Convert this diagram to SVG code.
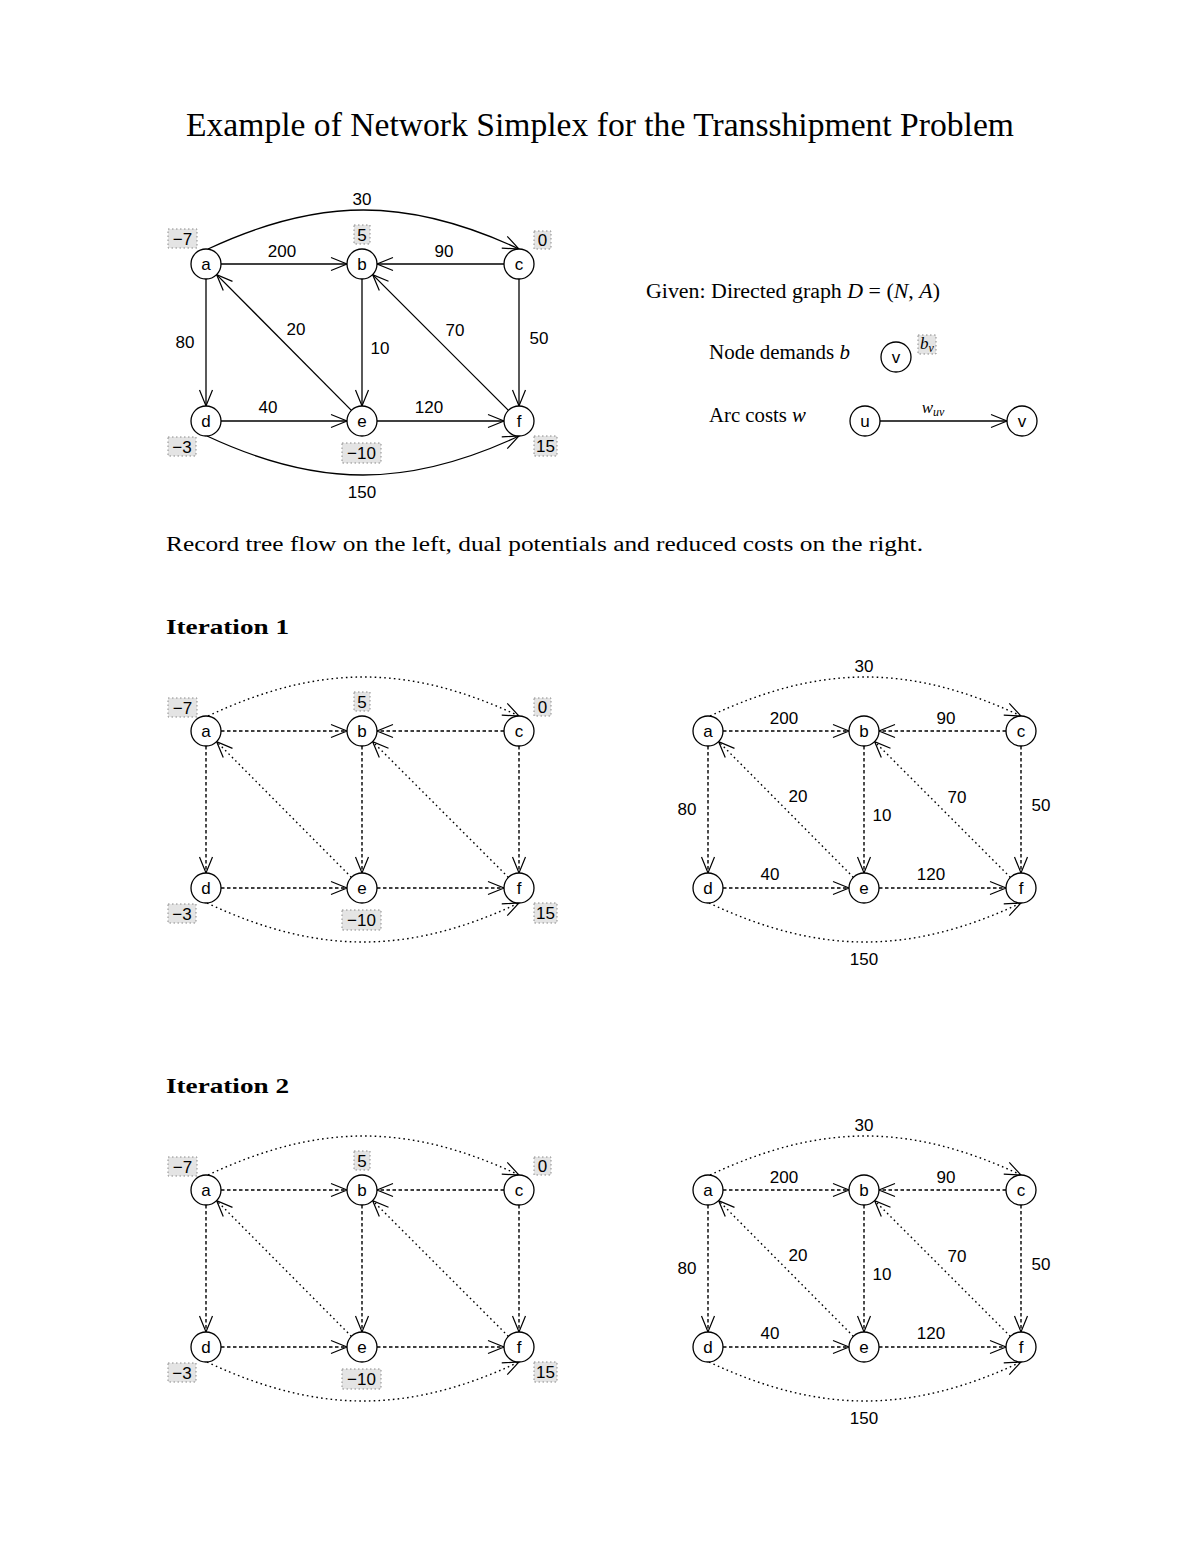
<svg xmlns="http://www.w3.org/2000/svg" width="1200" height="1553" viewBox="0 0 1200 1553">
<style>
.bg{fill:#fff}
.node circle{fill:#fff;stroke:#000;stroke-width:1.3}
.node text,.lbl,.dem text{font-family:"Liberation Sans",Arial,sans-serif;font-size:17px;text-anchor:middle;fill:#000}
.dem rect{fill:#e4e4e4;stroke:#8a8a8a;stroke-width:1;stroke-dasharray:1.5 2.5}
.edge{fill:none;stroke:#000;stroke-width:1.3;marker-end:url(#ah)}
.dash{stroke-dasharray:3.5 2.5;stroke-width:1.4}
.dot{stroke-dasharray:1.6 3.2;stroke-width:1.4}
.serif{font-family:"Liberation Serif","Times New Roman",serif;fill:#000}
</style>
<defs>
<marker id="ah" markerUnits="userSpaceOnUse" markerWidth="20" markerHeight="16" refX="16" refY="7" orient="auto" overflow="visible">
<path d="M0,0.5 L16,7 L0,13.5" fill="none" stroke="#000" stroke-width="1.2"/>
</marker>
</defs>
<rect class="bg" x="0" y="0" width="1200" height="1553"/>

<text class="serif" x="186" y="136" font-size="34" textLength="828" lengthAdjust="spacingAndGlyphs">Example of Network Simplex for the Transshipment Problem</text>

<!-- ============ Main graph ============ -->
<g id="main">
<g id="main-connectors">
<path class="edge" d="M208,249 C319,197 408,197 519,249"/>
<path class="edge" d="M221,264 H347"/>
<path class="edge" d="M504,264 H377"/>
<path class="edge" d="M206,279 V406"/>
<path class="edge" d="M362,279 V406"/>
<path class="edge" d="M519,279 V406"/>
<path class="edge" d="M221,421 H347"/>
<path class="edge" d="M377,421 H504"/>
<path class="edge" d="M351.4,410.4 L216.6,274.6"/>
<path class="edge" d="M508.4,410.4 L372.6,274.6"/>
<path class="edge" d="M207,436 C318,488 408,488 519,436"/>
</g>
<g id="main-costs">
<text class="lbl" x="362" y="205">30</text>
<text class="lbl" x="282" y="257">200</text>
<text class="lbl" x="444" y="257">90</text>
<text class="lbl" x="185" y="348">80</text>
<text class="lbl" x="296" y="335">20</text>
<text class="lbl" x="380" y="354">10</text>
<text class="lbl" x="455" y="336">70</text>
<text class="lbl" x="539" y="344">50</text>
<text class="lbl" x="268" y="413">40</text>
<text class="lbl" x="429" y="413">120</text>
<text class="lbl" x="362" y="498">150</text>
</g>
<g id="main-a" class="node"><circle cx="206" cy="264" r="15"/><text x="206" y="270">a</text></g>
<g id="main-b" class="node"><circle cx="362" cy="264" r="15"/><text x="362" y="270">b</text></g>
<g id="main-c" class="node"><circle cx="519" cy="264" r="15"/><text x="519" y="270">c</text></g>
<g id="main-d" class="node"><circle cx="206" cy="421" r="15"/><text x="206" y="427">d</text></g>
<g id="main-e" class="node"><circle cx="362" cy="421" r="15"/><text x="362" y="427">e</text></g>
<g id="main-f" class="node"><circle cx="519" cy="421" r="15"/><text x="519" y="427">f</text></g>
<g id="main-demands" class="dem">
<rect x="168" y="229" width="29" height="19"/><text x="182.5" y="245">−7</text>
<rect x="354" y="225" width="16" height="19"/><text x="362" y="241">5</text>
<rect x="534" y="231" width="17" height="18"/><text x="542.5" y="246">0</text>
<rect x="168" y="437" width="28" height="19"/><text x="182" y="453">−3</text>
<rect x="342" y="443" width="39" height="20"/><text x="361.5" y="459">−10</text>
<rect x="534" y="436" width="23" height="20"/><text x="545.5" y="452">15</text>
</g>
</g>

<!-- ============ Legend ============ -->
<g id="legend">
<text class="serif" x="646" y="298" font-size="20" textLength="294" lengthAdjust="spacingAndGlyphs">Given: Directed graph <tspan font-style="italic">D</tspan> = (<tspan font-style="italic">N</tspan>, <tspan font-style="italic">A</tspan>)</text>
<text class="serif" x="709" y="359" font-size="20" textLength="141" lengthAdjust="spacingAndGlyphs">Node demands <tspan font-style="italic">b</tspan></text>
<text class="serif" x="709" y="422" font-size="20" textLength="97" lengthAdjust="spacingAndGlyphs">Arc costs <tspan font-style="italic">w</tspan></text>
<g id="legend-v1" class="node"><circle cx="896" cy="357" r="15"/><text x="896" y="363" font-size="15">v</text></g>
<g id="legend-bv" class="dem"><rect x="918" y="335" width="18" height="19"/></g>
<text class="serif" x="920" y="349" font-size="17" font-style="italic">b<tspan font-size="12" dy="3">v</tspan></text>
<path class="edge" d="M880,421 H1007"/>
<text class="serif" x="933" y="413" font-size="17" font-style="italic" text-anchor="middle">w<tspan font-size="12" dy="3">uv</tspan></text>
<g id="legend-u" class="node"><circle cx="865" cy="421" r="15"/><text x="865" y="427" font-size="15">u</text></g>
<g id="legend-v2" class="node"><circle cx="1022" cy="421" r="15"/><text x="1022" y="427" font-size="15">v</text></g>
</g>

<text class="serif" x="166" y="551" font-size="20" textLength="757" lengthAdjust="spacingAndGlyphs">Record tree flow on the left, dual potentials and reduced costs on the right.</text>

<text class="serif" x="166" y="634" font-size="21" font-weight="bold" textLength="123" lengthAdjust="spacingAndGlyphs">Iteration 1</text>
<text class="serif" x="166" y="1093" font-size="21" font-weight="bold" textLength="123" lengthAdjust="spacingAndGlyphs">Iteration 2</text>

<!-- ============ Iteration 1 left ============ -->
<g id="it1-left" transform="translate(0,467)">
<g id="it1L-connectors">
<path class="edge dot" d="M208,249 C319,197 408,197 519,249"/>
<path class="edge dash" d="M221,264 H347"/>
<path class="edge dash" d="M504,264 H377"/>
<path class="edge dash" d="M206,279 V406"/>
<path class="edge dash" d="M362,279 V406"/>
<path class="edge dash" d="M519,279 V406"/>
<path class="edge dash" d="M221,421 H347"/>
<path class="edge dash" d="M377,421 H504"/>
<path class="edge dot" d="M351.4,410.4 L216.6,274.6"/>
<path class="edge dot" d="M508.4,410.4 L372.6,274.6"/>
<path class="edge dot" d="M207,436 C318,488 408,488 519,436"/>
</g>
<g id="it1L-a" class="node"><circle cx="206" cy="264" r="15"/><text x="206" y="270">a</text></g>
<g id="it1L-b" class="node"><circle cx="362" cy="264" r="15"/><text x="362" y="270">b</text></g>
<g id="it1L-c" class="node"><circle cx="519" cy="264" r="15"/><text x="519" y="270">c</text></g>
<g id="it1L-d" class="node"><circle cx="206" cy="421" r="15"/><text x="206" y="427">d</text></g>
<g id="it1L-e" class="node"><circle cx="362" cy="421" r="15"/><text x="362" y="427">e</text></g>
<g id="it1L-f" class="node"><circle cx="519" cy="421" r="15"/><text x="519" y="427">f</text></g>
<g id="it1L-demands" class="dem">
<rect x="168" y="231" width="29" height="19"/><text x="182.5" y="247">−7</text>
<rect x="354" y="225" width="16" height="19"/><text x="362" y="241">5</text>
<rect x="534" y="231" width="17" height="18"/><text x="542.5" y="246">0</text>
<rect x="168" y="437" width="28" height="19"/><text x="182" y="453">−3</text>
<rect x="342" y="443" width="39" height="20"/><text x="361.5" y="459">−10</text>
<rect x="534" y="436" width="23" height="20"/><text x="545.5" y="452">15</text>
</g>
</g>

<!-- ============ Iteration 1 right ============ -->
<g id="it1-right" transform="translate(502,467)">
<g id="it1R-connectors">
<path class="edge dot" d="M208,249 C319,197 408,197 519,249"/>
<path class="edge dash" d="M221,264 H347"/>
<path class="edge dash" d="M504,264 H377"/>
<path class="edge dash" d="M206,279 V406"/>
<path class="edge dash" d="M362,279 V406"/>
<path class="edge dash" d="M519,279 V406"/>
<path class="edge dash" d="M221,421 H347"/>
<path class="edge dash" d="M377,421 H504"/>
<path class="edge dot" d="M351.4,410.4 L216.6,274.6"/>
<path class="edge dot" d="M508.4,410.4 L372.6,274.6"/>
<path class="edge dot" d="M207,436 C318,488 408,488 519,436"/>
</g>
<g id="it1R-costs">
<text class="lbl" x="362" y="205">30</text>
<text class="lbl" x="282" y="257">200</text>
<text class="lbl" x="444" y="257">90</text>
<text class="lbl" x="185" y="348">80</text>
<text class="lbl" x="296" y="335">20</text>
<text class="lbl" x="380" y="354">10</text>
<text class="lbl" x="455" y="336">70</text>
<text class="lbl" x="539" y="344">50</text>
<text class="lbl" x="268" y="413">40</text>
<text class="lbl" x="429" y="413">120</text>
<text class="lbl" x="362" y="498">150</text>
</g>
<g id="it1R-a" class="node"><circle cx="206" cy="264" r="15"/><text x="206" y="270">a</text></g>
<g id="it1R-b" class="node"><circle cx="362" cy="264" r="15"/><text x="362" y="270">b</text></g>
<g id="it1R-c" class="node"><circle cx="519" cy="264" r="15"/><text x="519" y="270">c</text></g>
<g id="it1R-d" class="node"><circle cx="206" cy="421" r="15"/><text x="206" y="427">d</text></g>
<g id="it1R-e" class="node"><circle cx="362" cy="421" r="15"/><text x="362" y="427">e</text></g>
<g id="it1R-f" class="node"><circle cx="519" cy="421" r="15"/><text x="519" y="427">f</text></g>
</g>

<!-- ============ Iteration 2 left ============ -->
<g id="it2-left" transform="translate(0,926)">
<g id="it2L-connectors">
<path class="edge dot" d="M208,249 C319,197 408,197 519,249"/>
<path class="edge dash" d="M221,264 H347"/>
<path class="edge dash" d="M504,264 H377"/>
<path class="edge dash" d="M206,279 V406"/>
<path class="edge dash" d="M362,279 V406"/>
<path class="edge dash" d="M519,279 V406"/>
<path class="edge dash" d="M221,421 H347"/>
<path class="edge dash" d="M377,421 H504"/>
<path class="edge dot" d="M351.4,410.4 L216.6,274.6"/>
<path class="edge dot" d="M508.4,410.4 L372.6,274.6"/>
<path class="edge dot" d="M207,436 C318,488 408,488 519,436"/>
</g>
<g id="it2L-a" class="node"><circle cx="206" cy="264" r="15"/><text x="206" y="270">a</text></g>
<g id="it2L-b" class="node"><circle cx="362" cy="264" r="15"/><text x="362" y="270">b</text></g>
<g id="it2L-c" class="node"><circle cx="519" cy="264" r="15"/><text x="519" y="270">c</text></g>
<g id="it2L-d" class="node"><circle cx="206" cy="421" r="15"/><text x="206" y="427">d</text></g>
<g id="it2L-e" class="node"><circle cx="362" cy="421" r="15"/><text x="362" y="427">e</text></g>
<g id="it2L-f" class="node"><circle cx="519" cy="421" r="15"/><text x="519" y="427">f</text></g>
<g id="it2L-demands" class="dem">
<rect x="168" y="231" width="29" height="19"/><text x="182.5" y="247">−7</text>
<rect x="354" y="225" width="16" height="19"/><text x="362" y="241">5</text>
<rect x="534" y="231" width="17" height="18"/><text x="542.5" y="246">0</text>
<rect x="168" y="437" width="28" height="19"/><text x="182" y="453">−3</text>
<rect x="342" y="443" width="39" height="20"/><text x="361.5" y="459">−10</text>
<rect x="534" y="436" width="23" height="20"/><text x="545.5" y="452">15</text>
</g>
</g>

<!-- ============ Iteration 2 right ============ -->
<g id="it2-right" transform="translate(502,926)">
<g id="it2R-connectors">
<path class="edge dot" d="M208,249 C319,197 408,197 519,249"/>
<path class="edge dash" d="M221,264 H347"/>
<path class="edge dash" d="M504,264 H377"/>
<path class="edge dash" d="M206,279 V406"/>
<path class="edge dash" d="M362,279 V406"/>
<path class="edge dash" d="M519,279 V406"/>
<path class="edge dash" d="M221,421 H347"/>
<path class="edge dash" d="M377,421 H504"/>
<path class="edge dot" d="M351.4,410.4 L216.6,274.6"/>
<path class="edge dot" d="M508.4,410.4 L372.6,274.6"/>
<path class="edge dot" d="M207,436 C318,488 408,488 519,436"/>
</g>
<g id="it2R-costs">
<text class="lbl" x="362" y="205">30</text>
<text class="lbl" x="282" y="257">200</text>
<text class="lbl" x="444" y="257">90</text>
<text class="lbl" x="185" y="348">80</text>
<text class="lbl" x="296" y="335">20</text>
<text class="lbl" x="380" y="354">10</text>
<text class="lbl" x="455" y="336">70</text>
<text class="lbl" x="539" y="344">50</text>
<text class="lbl" x="268" y="413">40</text>
<text class="lbl" x="429" y="413">120</text>
<text class="lbl" x="362" y="498">150</text>
</g>
<g id="it2R-a" class="node"><circle cx="206" cy="264" r="15"/><text x="206" y="270">a</text></g>
<g id="it2R-b" class="node"><circle cx="362" cy="264" r="15"/><text x="362" y="270">b</text></g>
<g id="it2R-c" class="node"><circle cx="519" cy="264" r="15"/><text x="519" y="270">c</text></g>
<g id="it2R-d" class="node"><circle cx="206" cy="421" r="15"/><text x="206" y="427">d</text></g>
<g id="it2R-e" class="node"><circle cx="362" cy="421" r="15"/><text x="362" y="427">e</text></g>
<g id="it2R-f" class="node"><circle cx="519" cy="421" r="15"/><text x="519" y="427">f</text></g>
</g>
</svg>
